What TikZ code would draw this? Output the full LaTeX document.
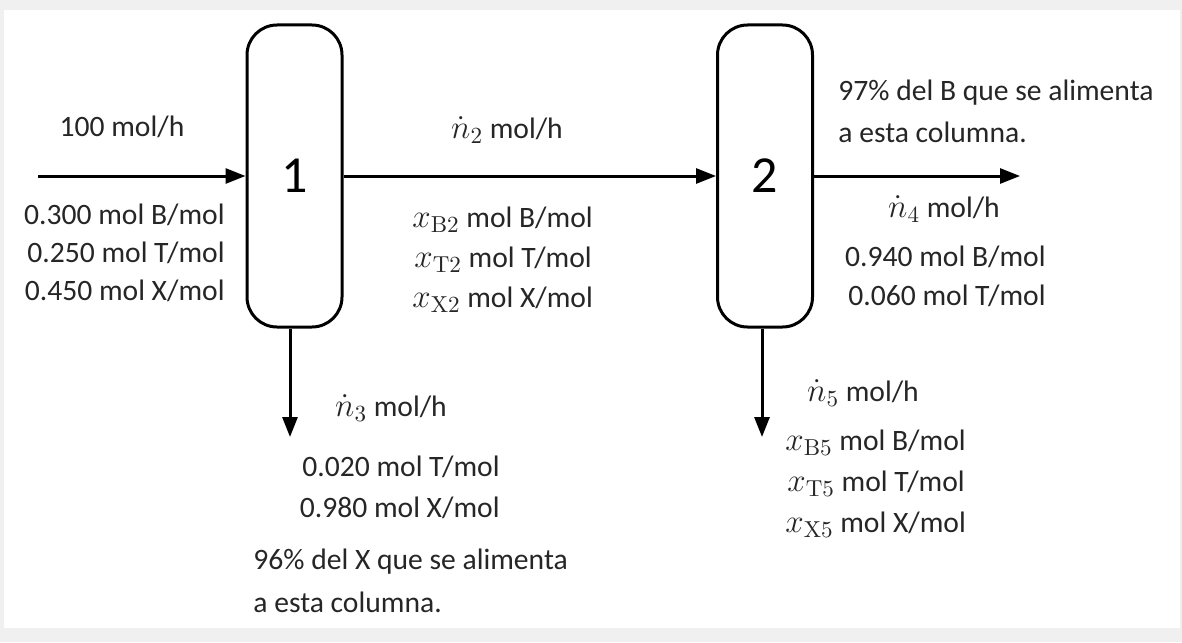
\RequirePackage{fix-cm}
\documentclass[tikz,border=0pt]{standalone}
\usepackage[no-math]{fontspec}
\setmainfont{Carlito}
\usetikzlibrary{arrows.meta}
\newcommand{\mymath}[1]{{\fontsize{16.5}{18}\selectfont$#1$}}
\begin{document}
\begin{tikzpicture}[x=0.5pt,y=-0.5pt,
  column/.style={draw,line width=1.5pt,rounded corners=15pt,minimum width=47.5pt,minimum height=151pt,inner sep=0,font=\fontsize{26}{30}\selectfont},
  lbl/.style={inner sep=0,font=\fontsize{14.8}{18}\selectfont,text=black!85},
  flow/.style={line width=1.5pt,-{Triangle[length=10pt,width=7.5pt]}}]
\useasboundingbox (0,0) rectangle (1182,642);
\fill[black!6] (0,0) rectangle (1182,642);
\fill[white] (4,10) rectangle (1180,628);
% columns
\node[column] (c1) at (294.5,176) {1};
\node[column] (c2) at (765,176) {2};
% coordinates
\coordinate (feed) at (38,176);
\coordinate (out4) at (1020,176);
\coordinate (out3) at (290,437);
\coordinate (out5) at (762,437);
% flows
\draw[flow] (feed) -- (c1.west);
\draw[flow] (c1.east) -- (c2.west);
\draw[flow] (c2.east) -- (out4);
\draw[flow] (c1.south -| out3) -- (out3);
\draw[flow] (c2.south -| out5) -- (out5);
% feed labels
\node[lbl] (f0) at (122,127) {100 mol/h};
\node[lbl,anchor=east] (f1) at (225,215) {0.300 mol B/mol};
\node[lbl,anchor=east] (f2) at (225,253) {0.250 mol T/mol};
\node[lbl,anchor=east] (f3) at (225,291) {0.450 mol X/mol};
% stream 2
\node[lbl] (s20) at (507,130) {\mymath{\dot{n}_2} mol/h};
\node[lbl,anchor=west] (s21) at (412,220) {\mymath{x_{\mathrm{B2}}} mol B/mol};
\node[lbl,anchor=west] (s22) at (414,260) {\mymath{x_{\mathrm{T2}}} mol T/mol};
\node[lbl,anchor=west] (s23) at (412,300) {\mymath{x_{\mathrm{X2}}} mol X/mol};
% stream 4
\node[lbl,anchor=west] (s4a) at (838,93) {97\% del B que se alimenta};
\node[lbl,anchor=west] (s4b) at (838,132) {a esta columna.};
\node[lbl] (s40) at (944,209) {\mymath{\dot{n}_4} mol/h};
\node[lbl,anchor=east] (s41) at (1046,257) {0.940 mol B/mol};
\node[lbl,anchor=east] (s42) at (1046,296) {0.060 mol T/mol};
% stream 3
\node[lbl] (s30) at (391,408) {\mymath{\dot{n}_3} mol/h};
\node[lbl,anchor=east] (s31) at (500,467) {0.020 mol T/mol};
\node[lbl,anchor=east] (s32) at (500,508) {0.980 mol X/mol};
\node[lbl,anchor=west] (s3a) at (253,562) {96\% del X que se alimenta};
\node[lbl,anchor=west] (s3b) at (253,602) {a esta columna.};
% stream 5
\node[lbl] (s50) at (863,393) {\mymath{\dot{n}_5} mol/h};
\node[lbl,anchor=west] (s51) at (785,443) {\mymath{x_{\mathrm{B5}}} mol B/mol};
\node[lbl,anchor=west] (s52) at (787,484) {\mymath{x_{\mathrm{T5}}} mol T/mol};
\node[lbl,anchor=west] (s53) at (785,525) {\mymath{x_{\mathrm{X5}}} mol X/mol};
\end{tikzpicture}
\end{document}
